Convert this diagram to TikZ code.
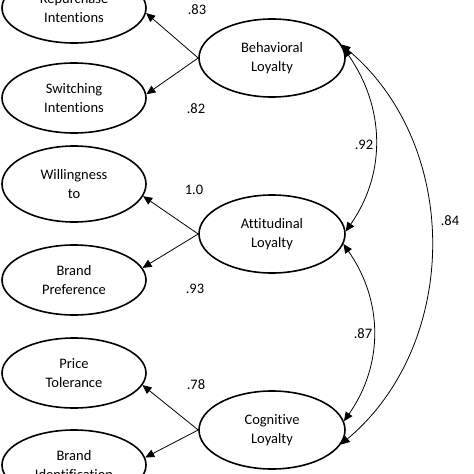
\documentclass[tikz,border=0pt]{standalone}
\usepackage{fontspec}
\setmainfont{Carlito}[Ligatures=NoCommon]
\usepackage{tikz}
\usetikzlibrary{arrows.meta, shapes.geometric, positioning}

\begin{document}
\begin{tikzpicture}[x=1pt, y=1pt,
    item/.style={ellipse, draw, line width=1.6pt, minimum width=144pt, minimum height=70pt, inner sep=0pt, align=center, font=\fontsize{14.5}{18.5}\selectfont},
    factor/.style={item, minimum width=146pt, minimum height=78pt},
    lbl/.style={font=\fontsize{14.5}{17}\selectfont},
    arr/.style={-{Triangle[length=9pt, width=8pt]}, line width=0.8pt},
    cov/.style={{Triangle[length=9pt, width=8pt]}-{Triangle[length=9pt, width=8pt]}, line width=0.8pt}
  ]
  % frame of the picture
  \clip (0,0) rectangle (474,-474);
  \useasboundingbox (0,0) rectangle (474,-474);
  % indicators
  \node[item] (rep) at (74,-8) {Repurchase\\Intentions};
  \node[item] (swi) at (74,-98) {Switching\\Intentions};
  \node[item, minimum height=76pt] (wil) at (74,-184) {Willingness\\to};
  \node[item] (bpr) at (74,-280) {Brand\\Preference};
  \node[item] (pri) at (74,-373) {Price\\Tolerance};
  \node[item] (bid) at (74,-465) {Brand\\Identification};
  % loyalty factors
  \node[factor] (beh) at (272,-58) {Behavioral\\Loyalty};
  \node[factor] (att) at (272,-234) {Attitudinal\\Loyalty};
  \node[factor] (cog) at (272,-430) {Cognitive\\Loyalty};
  % loadings
  \draw[arr] (beh.west) -- (rep.-4);
  \draw[arr] (beh.west) -- (swi.3);
  \draw[arr] (att.west) -- (wil.-10);
  \draw[arr] (att.west) -- (bpr.10);
  \draw[arr] (cog.west) -- (pri.-10);
  \draw[arr] (cog.west) -- (bid.6);
  \node[lbl] at (197,-10) {.83};
  \node[lbl] at (196,-109) {.82};
  \node[lbl] at (194,-190) {1.0};
  \node[lbl] at (195,-289) {.93};
  \node[lbl] at (196,-385) {.78};
  % correlations
  \draw[cov] (beh.8) to[out=-55, in=55] (att.2);
  \draw[cov] (att.-8) to[out=-55, in=55] (cog.7);
  \draw[cov] (beh.11) to[out=-40, in=40] (cog.-12);
  \node[lbl] at (364,-145) {.92};
  \node[lbl] at (363,-334) {.87};
  \node[lbl] at (450,-221) {.84};
\end{tikzpicture}
\end{document}
